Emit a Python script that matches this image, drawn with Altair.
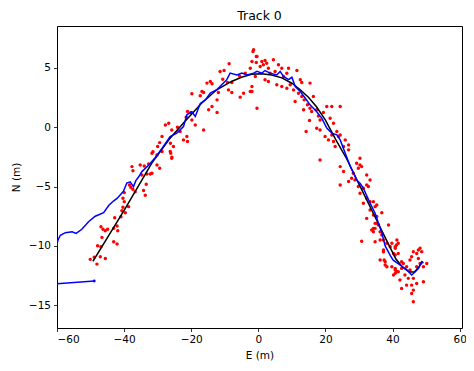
import altair as alt
import pandas as pd

# Ground truth (black)
truth_x = [-49.3, -40, -31.7, -26.5, -22.3, -17, -12.4, -8, -5, -2, 1, 4, 7, 10, 12.5, 15, 17.4, 20, 23, 26.4, 30, 34, 38, 41, 43, 45, 46.5, 47.8, 49]
truth_y = [-11.3, -7.0, -3.0, -1.0, 0.35, 2.0, 3.15, 3.85, 4.2, 4.45, 4.5, 4.4, 4.15, 3.7, 3.15, 2.5, 1.7, 0.6, -1.0, -2.7, -4.8, -7.1, -9.4, -11.1, -11.8, -12.2, -12.2, -11.8, -11.3]

# Estimated track (blue)
est_x = [-60.2, -59.7, -59, -57.5, -55.5, -54.3, -52.6, -50.6, -48.6, -46.1, -44.6, -43.1, -42.1, -40.2, -39.2, -38.2, -37.2, -36.5, -35.7, -34.7, -32.7, -30.7, -28.5, -26.3, -24.3, -22.3, -21.3, -19.8, -18.8, -17.3, -15.8, -14.3, -12.4, -10.9, -9.4, -8.4, -6.4, -4.9, -3.4, -1.4, -0.4, 1.05, 2.0, 3.5, 5.5, 6.5, 7.5, 9, 10, 11, 12.5, 14, 15.4, 17.4, 18.9, 20.4, 21.9, 23.4, 24.4, 25.9, 27.4, 29.3, 30.3, 31.3, 33.3, 34.8, 36.8, 37.8, 39.3, 40.2, 42.2, 44.2, 45.7, 46.7, 47.7, 48.7, 49.2]
est_y = [-10.1, -9.5, -9.1, -8.88, -8.8, -8.94, -8.6, -7.96, -7.5, -7.2, -6.6, -6.2, -6.0, -5.4, -4.7, -4.6, -5.0, -4.5, -4.2, -3.74, -3.2, -2.55, -1.7, -0.8, -0.5, 0.05, 1.04, 1.3, 0.9, 2.0, 2.3, 2.87, 3.15, 3.57, 4.0, 4.55, 4.4, 4.55, 4.4, 4.55, 4.7, 4.55, 4.77, 4.55, 4.4, 4.7, 4.27, 4.0, 4.2, 3.42, 3.0, 2.44, 1.88, 1.3, 0.76, -0.08, -0.5, -0.65, -1.07, -2.2, -3.3, -4.44, -4.72, -5.14, -6.4, -7.25, -8.9, -10.0, -10.8, -11.2, -11.6, -12.0, -12.45, -12.2, -11.9, -11.33, -11.45]

# Second (short) track (blue)
trk2_x = [-60.3, -48.9]
trk2_y = [-13.2, -12.95]

# Measurements (red)
meas = [
    (-31.7, -2.2), (-28.7, -2.05), (-26.25, -2.05), (-25.75, -2.53), (-37.67, -3.32), (-37.37, -3.66),
    (-35.2, -3.18), (-34.0, -3.26), (-32.7, -3.1), (-30.2, -3.18), (-29.4, -3.46), (-34.7, -4.02),
    (-33.2, -3.94), (-32.2, -3.94), (-31.7, -3.88), (-38.4, -4.87), (-38.0, -5.06), (-37.4, -5.23),
    (-36.7, -5.43), (-33.4, -4.81), (-34.2, -5.34), (-33.7, -5.74), (-39.95, -5.51), (-40.35, -5.99),
    (-39.95, -6.27), (-38.66, -6.69), (-40.35, -6.75), (-40.65, -7.03), (-39.65, -7.2), (-40.95, -7.54),
    (-42.8, -7.62), (-42.1, -8.32), (-43.1, -8.52), (-41.9, -8.72), (-46.3, -8.6), (-45.6, -8.72),
    (-44.9, -8.6), (-46.9, -8.38), (-46.6, -9.28), (-43.1, -9.64), (-42.1, -9.84), (-47.9, -9.98),
    (-46.9, -10.07), (-50.1, -11.13), (-48.9, -10.96), (-47.1, -10.91), (-45.6, -11.05), (-48.1, -11.53),
    (-1.6, 6.38), (-0.6, 5.95), (-0.6, 5.45), (-8.7, 5.34), (-11.4, 4.69), (-10.2, 4.77), (-2.4, 4.97),
    (-14.3, 3.85), (-15.3, 3.71), (-13.8, 3.65), (-10.6, 4.04), (-9.2, 3.76), (-7.9, 3.76), (-5.6, 4.32),
    (-3.9, 4.55), (-19.8, 2.81), (-16.8, 3.0), (-16.3, 2.92), (-17.3, 2.64), (-11.9, 2.92), (-12.3, 2.3),
    (-13.8, 1.74), (-14.8, 1.46), (-8.9, 3.14), (-7.9, 2.92), (-5.4, 2.53), (-4.4, 2.86), (-2.4, 3.0),
    (-1.9, 3.43), (-0.4, 1.6), (-12.3, 1.23), (-20.1, 1.23), (-21.1, 1.32), (-21.5, 0.84), (-19.8, 0.61),
    (-18.8, 0.19), (-16.3, -0.23), (-27.7, 0.19), (-26.7, 0.33), (-25.8, -0.23), (-24.1, 0.0),
    (-23.3, -0.37), (-21.3, -0.79), (-22.3, -1.07), (-21.1, -1.21), (-28.7, -0.79), (-29.4, -1.3),
    (-30.0, -1.63), (-26.2, -1.35), (-25.3, -1.63), (-26.1, -2.2), (-25.8, -2.62), (-31.4, -2.06),
    (-30.2, -2.34),
    (-1.4, 6.52), (-0.4, 5.95), (-1.9, 5.53), (1.05, 5.53), (1.5, 5.25), (2.0, 5.62), (2.5, 5.39),
    (0.55, 5.11), (3.0, 4.97), (4.5, 5.67), (6.0, 5.25), (7.0, 4.97), (9.0, 4.97), (5.0, 4.69),
    (3.5, 4.55), (-0.9, 4.27), (2.0, 3.99), (3.0, 3.85), (5.5, 3.57), (7.0, 3.43), (8.5, 3.28),
    (7.5, 4.27), (8.5, 4.55), (11.5, 4.77), (12.5, 3.99), (12.96, 3.76), (15.4, 3.71), (9.5, 3.57),
    (10.5, 3.14), (11.97, 2.86), (12.96, 2.58), (13.66, 2.3), (10.97, 2.16), (14.65, 1.88), (16.4, 2.58),
    (15.4, 1.6), (15.9, 1.32), (13.5, 1.46), (17.4, 1.46), (17.9, 0.95), (18.4, 0.61), (19.4, 1.23),
    (20.4, 1.74), (21.9, 1.74), (24.4, 1.74), (21.4, 0.75), (22.4, 0.33), (15.25, 0.56), (17.4, -0.09),
    (18.4, -0.23), (14.25, -0.37), (19.9, -0.79), (20.9, -1.07), (21.9, -0.65), (23.4, -0.37),
    (23.9, -0.79), (24.4, -0.65), (22.4, -1.21), (22.9, -1.63), (25.4, -1.63), (25.9, -1.07),
    (26.9, -1.49), (26.9, -1.91), (-1.9, 3.0), (18.4, -2.76), (24.4, -3.32), (29.3, -3.04), (30.3, -2.62),
    (25.4, -3.74), (30.3, -3.18), (29.8, -3.46), (30.8, -3.32), (28.3, -3.88), (27.8, -4.3), (28.8, -4.44),
    (26.9, -4.58), (32.3, -4.02), (33.3, -4.44), (32.3, -4.86), (32.8, -5.0), (29.8, -5.0), (31.3, -5.15),
    (24.4, -4.86), (30.3, -5.57), (31.3, -6.41), (32.3, -5.99), (33.3, -6.27), (34.3, -6.27), (34.8, -6.69),
    (33.3, -6.97), (35.3, -6.55), (36.8, -7.2), (34.3, -7.4), (35.3, -7.53), (35.3, -8.1), (32.3, -7.68),
    (38.8, -8.24), (34.8, -8.52), (33.8, -8.66), (34.3, -8.8), (36.3, -8.8), (36.8, -9.08), (37.3, -9.5),
    (38.3, -9.78), (41.3, -9.5), (40.8, -10.06), (40.8, -10.77), (37.3, -10.35), (36.3, -11.19),
    (37.5, -11.19), (37.8, -11.61), (38.3, -11.75), (39.8, -11.75), (40.8, -11.89), (41.7, -12.17),
    (40.3, -12.45), (30.8, -9.6), (34.8, -9.64), (42.7, -11.33), (41.7, -10.63),
    (34.8, -8.1), (35.8, -8.24), (34.3, -8.52), (36.3, -9.5), (39.3, -10.06), (39.8, -9.78), (40.8, -10.2),
    (41.2, -9.92), (41.7, -9.78), (40.3, -10.63), (37.3, -10.49), (37.8, -11.33), (40.8, -12.03),
    (41.2, -12.17), (42.7, -11.89), (43.2, -11.47), (44.2, -11.75), (43.7, -12.45), (45.2, -11.19),
    (45.7, -10.91), (46.2, -10.49), (47.2, -10.63), (47.7, -10.35), (48.2, -10.2), (48.7, -10.49),
    (47.7, -11.05), (48.2, -11.47), (50.2, -11.47), (49.2, -11.75), (47.2, -11.75), (45.2, -12.03),
    (44.7, -12.73), (46.2, -12.73), (45.7, -13.3), (47.2, -13.16), (49.2, -13.02), (42.2, -12.87),
    (42.7, -13.58), (44.2, -13.3), (46.2, -13.72), (45.7, -14.0), (46.2, -14.7), (40.8, -12.31),
]

x_ticks = [-60, -40, -20, 0, 20, 40, 60]
y_ticks = [-15, -10, -5, 0, 5]
x_domain = [-60, 60.7]
y_domain = [-16.91, 8.52]

truth_df = pd.DataFrame({"E": truth_x, "N": truth_y, "o": range(len(truth_x))})
est_df = pd.DataFrame({"E": est_x, "N": est_y, "o": range(len(est_x))})
trk2_df = pd.DataFrame({"E": trk2_x, "N": trk2_y, "o": range(len(trk2_x))})
meas_df = pd.DataFrame(meas, columns=["E", "N"])

FONT = "DejaVu Sans"
minus = "replace(datum.label, '-', '\u2212')"

xenc = alt.X("E:Q", title="E (m)", scale=alt.Scale(domain=x_domain, nice=False, zero=False),
             axis=alt.Axis(values=x_ticks, labelExpr=minus))
yenc = alt.Y("N:Q", title="N (m)", scale=alt.Scale(domain=y_domain, nice=False, zero=False),
             axis=alt.Axis(values=y_ticks, labelExpr=minus))

pts = alt.Chart(meas_df).mark_circle(color="#ff0000", size=12, opacity=1, clip=True).encode(x=xenc, y=yenc)
truth = alt.Chart(truth_df).mark_line(color="black", strokeWidth=1.5, clip=True).encode(x=xenc, y=yenc, order="o:Q")
est = alt.Chart(est_df).mark_line(color="#0000ff", strokeWidth=1.5, clip=True).encode(x=xenc, y=yenc, order="o:Q")
trk2 = alt.Chart(trk2_df).mark_line(color="#0000ff", strokeWidth=1.5, clip=True).encode(x=xenc, y=yenc, order="o:Q")
trk2_end = alt.Chart(trk2_df.tail(1)).mark_circle(color="#0000ff", size=8, opacity=1, clip=True).encode(x=xenc, y=yenc)

chart = alt.layer(pts, truth, est, trk2, trk2_end).properties(
    width=405, height=302,
    title=alt.TitleParams("Track 0", fontSize=12.5, font=FONT, fontWeight="normal", color="black",
                          anchor="middle", offset=4),
    autosize=alt.AutoSizeParams(type="none"),
    padding={"left": 49, "top": 18, "right": 4, "bottom": 35},
).configure_view(stroke="black", strokeWidth=1).configure_axis(
    grid=False, domain=False, tickColor="black", tickSize=3.5, tickWidth=0.8,
    labelFont=FONT, labelFontSize=10.5, labelColor="black", labelPadding=3,
    titleFont=FONT, titleFontSize=10.5, titleFontWeight="normal", titleColor="black",
).configure_axisX(titlePadding=5).configure_axisY(titlePadding=7)

chart.save("out.html", embed_options={"renderer": "svg", "actions": False})
